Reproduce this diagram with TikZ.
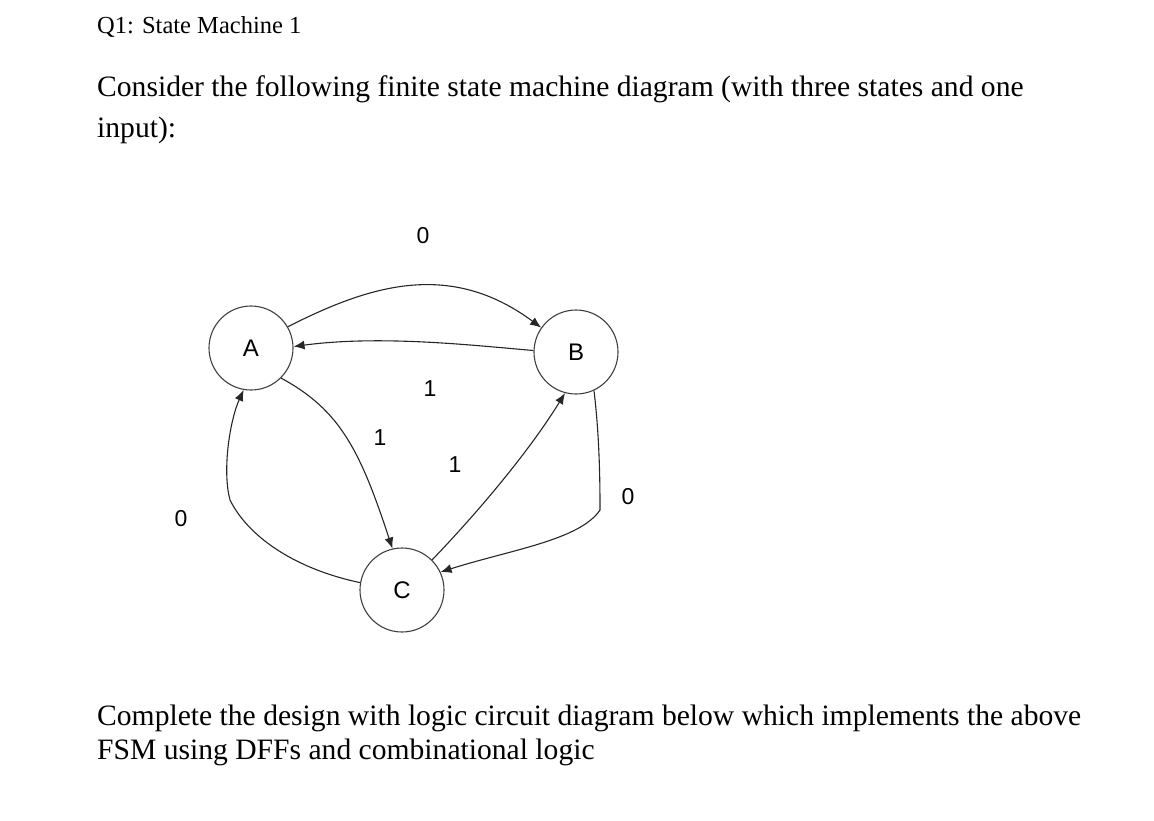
\documentclass[tikz,border=0pt]{standalone}
\usepackage{fontspec}
\setmainfont{Liberation Serif}
\newfontfamily\lsans{Liberation Sans}
\usetikzlibrary{arrows.meta}
\begin{document}
\begin{tikzpicture}[x=1pt,y=-1pt,
  st/.style={circle,draw=black!75,line width=1.1pt,minimum size=84pt,inner sep=0pt,font=\lsans\fontsize{24}{24}\selectfont},
  tr/.style={draw=black!85,line width=1.1pt,-{Latex[length=11pt,width=9pt]}},
  lb/.style={font=\lsans\fontsize{23}{23}\selectfont},
  tx/.style={anchor=west,inner sep=0pt,font=\fontsize{29.6}{30}\selectfont}]
\useasboundingbox (0,0) rectangle (1154,820);
\node[tx,font=\fontsize{24.5}{25}\selectfont] (t1) at (97,27) {Q1: State Machine 1};
\node[tx] (t2) at (97,89) {Consider the following finite state machine diagram (with three states and one};
\node[tx] (t3) at (97,130) {input):};
\node[tx] (t4) at (97,718) {Complete the design with logic circuit diagram below which implements the above};
\node[tx] (t5) at (97,752) {FSM using DFFs and combinational logic};
\node[st] (A) at (251,348) {A};
\node[st] (B) at (576,352) {B};
\node[st] (C) at (402,590) {C};
\draw[tr] (A.30) .. controls (370,285) and (450,260) .. (B.145);
\draw[tr] (B.178) .. controls (470,345) and (380,335) .. (A.2);
\draw[tr] (A.-45) .. controls (340,410) and (360,450) .. (C.103);
\draw[tr] (C.45) .. controls (480,510) and (530,450) .. (B.-105);
\draw[tr] (B.-65) .. controls (600,440) and (600,490) .. (600,510) .. controls (580,540) and (510,550) .. (C.25);
\draw[tr] (C.170) .. controls (300,570) and (250,540) .. (230,500) .. controls (222,470) and (230,420) .. (A.-100);
\node[lb] (l1) at (423,236) {0};
\node[lb] (l2) at (430,389) {1};
\node[lb] (l3) at (380,438) {1};
\node[lb] (l4) at (455,465) {1};
\node[lb] (l5) at (628,497) {0};
\node[lb] (l6) at (181,519) {0};
\end{tikzpicture}
\end{document}
